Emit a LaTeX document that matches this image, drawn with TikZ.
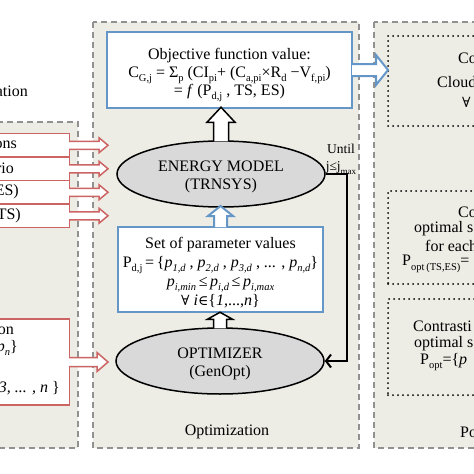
\documentclass[tikz,border=0pt]{standalone}
\usepackage{fontspec}
\setmainfont{Liberation Serif}
\newfontfamily\symfont{DejaVu Serif}
\usetikzlibrary{shapes.geometric,arrows.meta}
\definecolor{panelbg}{RGB}{237,236,229}
\definecolor{panelline}{RGB}{145,145,145}
\definecolor{boxblue}{RGB}{100,150,200}
\definecolor{boxred}{RGB}{205,100,100}
\definecolor{ellfill}{RGB}{217,217,217}
\newcommand\lo[1]{\raisebox{-0.28em}{\fontsize{10.5}{11}\selectfont #1}}
\newcommand\smlo[1]{\raisebox{-0.28em}{\fontsize{9}{10}\selectfont #1}}
\newcommand\fa{{\symfont\fontsize{14}{16}\selectfont ∀}}
\newcommand\elt{{\symfont\fontsize{14}{16}\selectfont ∈}}
\begin{document}
\begin{tikzpicture}[x=1pt,y=-1pt,
  every node/.style={font=\fontsize{16}{18}\selectfont, inner sep=0pt},
  panel/.style={fill=panelbg, draw=panelline, line width=1.5pt, dash pattern=on 6pt off 4pt},
  bluebox/.style={draw=boxblue, line width=2pt, fill=white},
  redbox/.style={draw=boxred, line width=1.5pt, fill=white},
  dotbox/.style={draw=black, line width=2pt, line cap=round, dash pattern=on 0pt off 5pt},
  ell/.style={ellipse, draw=black, line width=1.5pt, fill=ellfill, minimum width=208pt, minimum height=66pt},
  txt/.style={align=center},
  redarr/.style={draw=boxred, fill=white, line width=1.5pt},
  bluearr/.style={draw=boxblue, fill=white, line width=2pt},
  blackarr/.style={draw=black, fill=white, line width=1.5pt},
  feedback/.style={draw=black, line width=2pt, -{Straight Barb[length=5pt,width=13pt,line width=2pt]}},
  pics/oarrow/.style n args={4}{code={\path[pic actions] (-1,-#2) -- (#1-#4,-#2) -- (#1-#4,-#3) -- (#1,0) -- (#1-#4,#3) -- (#1-#4,#2) -- (-1,#2);}}
]
\useasboundingbox (0,0) rectangle (474,474);
\fill[white] (0,0) rectangle (474,474);

% panels
\path[panel] (-5,122) rectangle (78,448);
\path[panel] (93,22) rectangle (359,448);
\path[panel] (374,22) rectangle (485,448);

% left panel
\node[anchor=east] (simlabel) at (28,91) {ation};
\node[redbox, minimum width=80pt, minimum height=23.5pt, anchor=east] (r1) at (70,145.25) {};
\node[redbox, minimum width=80pt, minimum height=23.5pt, anchor=east] (r2) at (70,168.75) {};
\node[redbox, minimum width=80pt, minimum height=23.5pt, anchor=east] (r3) at (70,192.25) {};
\node[redbox, minimum width=80pt, minimum height=23.5pt, anchor=east] (r4) at (70,215.75) {};
\node[anchor=east] (t1) at (17,145) {ons};
\node[anchor=east] (t2) at (14,168.5) {rio};
\node[anchor=east] (t3) at (19,192) {ES)};
\node[anchor=east] (t4) at (21,215.5) {TS)};
\node[redbox, minimum width=80pt, minimum height=86pt, anchor=east] (r5) at (70,362) {};
\node[anchor=east] (t5) at (14,331) {on};
\node[anchor=east] (t6) at (18,348) {\textit{p}\lo{\textit{n}}\}};
\node[anchor=east] (t7) at (60,388) {\textit{3, ... , n} \}};

\pic[redarr] at (r1.east) {oarrow={38}{4}{7.5}{9}};
\pic[redarr] at (r2.east) {oarrow={38}{4}{7.5}{9}};
\pic[redarr] at (r3.east) {oarrow={38}{4}{7.5}{9}};
\pic[redarr] at (r4.east) {oarrow={38}{4}{7.5}{9}};
\pic[redarr] at (r5.east) {oarrow={38}{4.5}{9.5}{11}};

% middle panel
\node[bluebox, minimum width=245pt, minimum height=76pt] (obj) at (229.5,70) {};
\node[txt] (objtxt) at (229.5,75) {Objective function value:\\
C\lo{G,j} = Σ\lo{p} (CI\lo{pi}+ (C\lo{a,pi}×R\lo{d} −V\lo{f,pi})\\
= \textit{f} (P\lo{d,j} , TS, ES)};

\node[ell] (energy) at (221,174) {};
\node[txt] (energytxt) at (221,177) {ENERGY MODEL\\(TRNSYS)};

\node[bluebox, minimum width=205pt, minimum height=85pt] (param) at (220.5,269.5) {};
\node[txt, font=\fontsize{16}{18.8}\selectfont] (paramtxt) at (220.5,272.5) {Set of parameter values\\
P\lo{d,j}\,=\,\{\textit{p}\lo{\textit{1,d}} , \textit{p}\lo{\textit{2,d}} , \textit{p}\lo{\textit{3,d}} , ... , \textit{p}\lo{\textit{n,d}}\}\\
\textit{p}\lo{\textit{i,min}}\,≤\,\textit{p}\lo{\textit{i,d}}\,≤\,\textit{p}\lo{\textit{i,max}}\\
\fa\ \textit{i}\elt\{\textit{1},...,\textit{n}\}};

\node[ell] (opt) at (220,361) {};
\node[txt] (opttxt) at (220,364) {OPTIMIZER\\(GenOpt)};

\node (optlabel) at (227,432) {Optimization};

\pic[blackarr, rotate=90] at (energy.north) {oarrow={33}{7.5}{14}{15}};
\pic[bluearr, rotate=90] at (param.north) {oarrow={20}{6.5}{12.5}{10}};
\pic[blackarr, rotate=90] at (opt.north) {oarrow={15}{6.5}{12.5}{7}};

\draw[feedback] (energy.east) -- ++(21,0) |- (opt.east);
\node[txt, font=\fontsize{13.5}{17}\selectfont] (until) at (341,159) {Until\\j≤j\smlo{max}};

% right panel
\node[dotbox, minimum width=100pt, minimum height=90pt, anchor=north west] (c1) at (387,35) {};
\node[dotbox, minimum width=100pt, minimum height=93pt, anchor=north west] (c2) at (387,190) {};
\node[dotbox, minimum width=100pt, minimum height=96pt, anchor=north west] (c3) at (387,298) {};

\pic[bluearr] at (obj.east) {oarrow={35}{6}{15}{12}};

\node[anchor=west] (c1a) at (458,58) {Co};
\node[anchor=west] (c1b) at (437,82) {Cloud};
\node[anchor=west] (c1c) at (462,102) {\fa};

\node[anchor=west] (c2a) at (458,212) {Co};
\node[anchor=west] (c2b) at (414,229) {optimal s};
\node[anchor=west] (c2c) at (425,246) {for each};
\node[anchor=west] (c2d) at (402,264) {P\lo{opt\,(TS,ES)}=};

\node[anchor=west] (c3a) at (413,326) {Contrasti};
\node[anchor=west] (c3b) at (414,344) {optimal s};
\node[anchor=west] (c3c) at (420,362) {P\lo{opt}=\{\textit{p}};

\node[anchor=west] (postlabel) at (460,432) {Po};
\end{tikzpicture}
\end{document}
